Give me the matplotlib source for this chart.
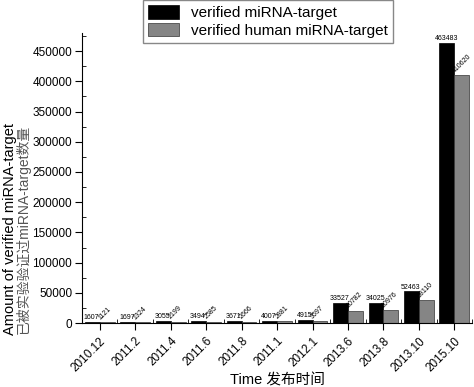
import numpy as np
import matplotlib
matplotlib.use("Agg")
import matplotlib.pyplot as plt
from matplotlib.ticker import MultipleLocator

plt.rcParams['font.family'] = ['Liberation Sans', 'Noto Sans CJK SC', 'DejaVu Sans']

# data
dates = ["2010.12", "2011.2", "2011.4", "2011.6", "2011.8", "2011.1",
         "2012.1", "2013.6", "2013.8", "2013.10", "2015.10"]
verified = [1607, 1697, 3055, 3494, 3671, 4007, 4915, 33527, 34025, 52463, 463483]
human = [1121, 1324, 2199, 2585, 2666, 2881, 3597, 20782, 20976, 38110, 410620]

fig = plt.figure(figsize=(4.74, 3.87), dpi=100)
ax = fig.add_axes([0.173, 0.165, 0.823, 0.75])

x = np.arange(len(dates))
w = 0.42
ax.bar(x - w / 2, verified, width=w, color="black", edgecolor="black",
       linewidth=0.5, label="verified miRNA-target")
ax.bar(x + w / 2, human, width=w, color="#858585", edgecolor="#333333",
       linewidth=0.5, label="verified human miRNA-target")

# value labels: black ones flat, grey ones tilted
for xi, v in zip(x, verified):
    ax.text(xi - w / 2 - 0.02, v + 1500, str(v), ha="center", va="bottom", fontsize=5)
for xi, v in zip(x, human):
    ax.text(xi + 0.05, v + 1500, str(v), ha="left", va="bottom",
            fontsize=5, rotation=45, rotation_mode="anchor", clip_on=False)

ax.set_xlim(-0.5, 10.5)
ax.set_ylim(0, 480000)
ax.spines["top"].set_visible(False)
ax.spines["right"].set_visible(False)

ax.set_xticks(x)
ax.set_xticklabels(dates, rotation=45, ha="right", rotation_mode="anchor", fontsize=8.5)
ax.set_xticks(np.arange(-0.5, 11, 1), minor=True)
ax.tick_params(axis="x", which="major", direction="out", length=5)
ax.tick_params(axis="x", which="minor", direction="in", length=3)

ax.yaxis.set_major_locator(MultipleLocator(50000))
ax.yaxis.set_minor_locator(MultipleLocator(25000))
ax.tick_params(axis="y", which="major", direction="out", length=5, labelsize=8.5, pad=2)
ax.tick_params(axis="y", which="minor", direction="in", length=3)

fig.text(0.021, 0.408, "Amount of verified miRNA-target", rotation=90,
         ha="center", va="center", fontsize=10.5)
fig.text(0.049, 0.408, "已被实验验证过miRNA-target数量", rotation=90,
         ha="center", va="center", fontsize=10, color="#555555")
fig.text(0.585, 0.018, "Time 发布时间", ha="center", va="center", fontsize=10.5)

fig.legend(loc="upper left", bbox_to_anchor=(143 / 474, 1.0), borderaxespad=0,
           fontsize=11, fancybox=False, edgecolor="#888888", handlelength=2.0,
           handleheight=1.0, labelspacing=0.15, borderpad=0.35, framealpha=1)

fig.savefig("out.png", dpi=100)
